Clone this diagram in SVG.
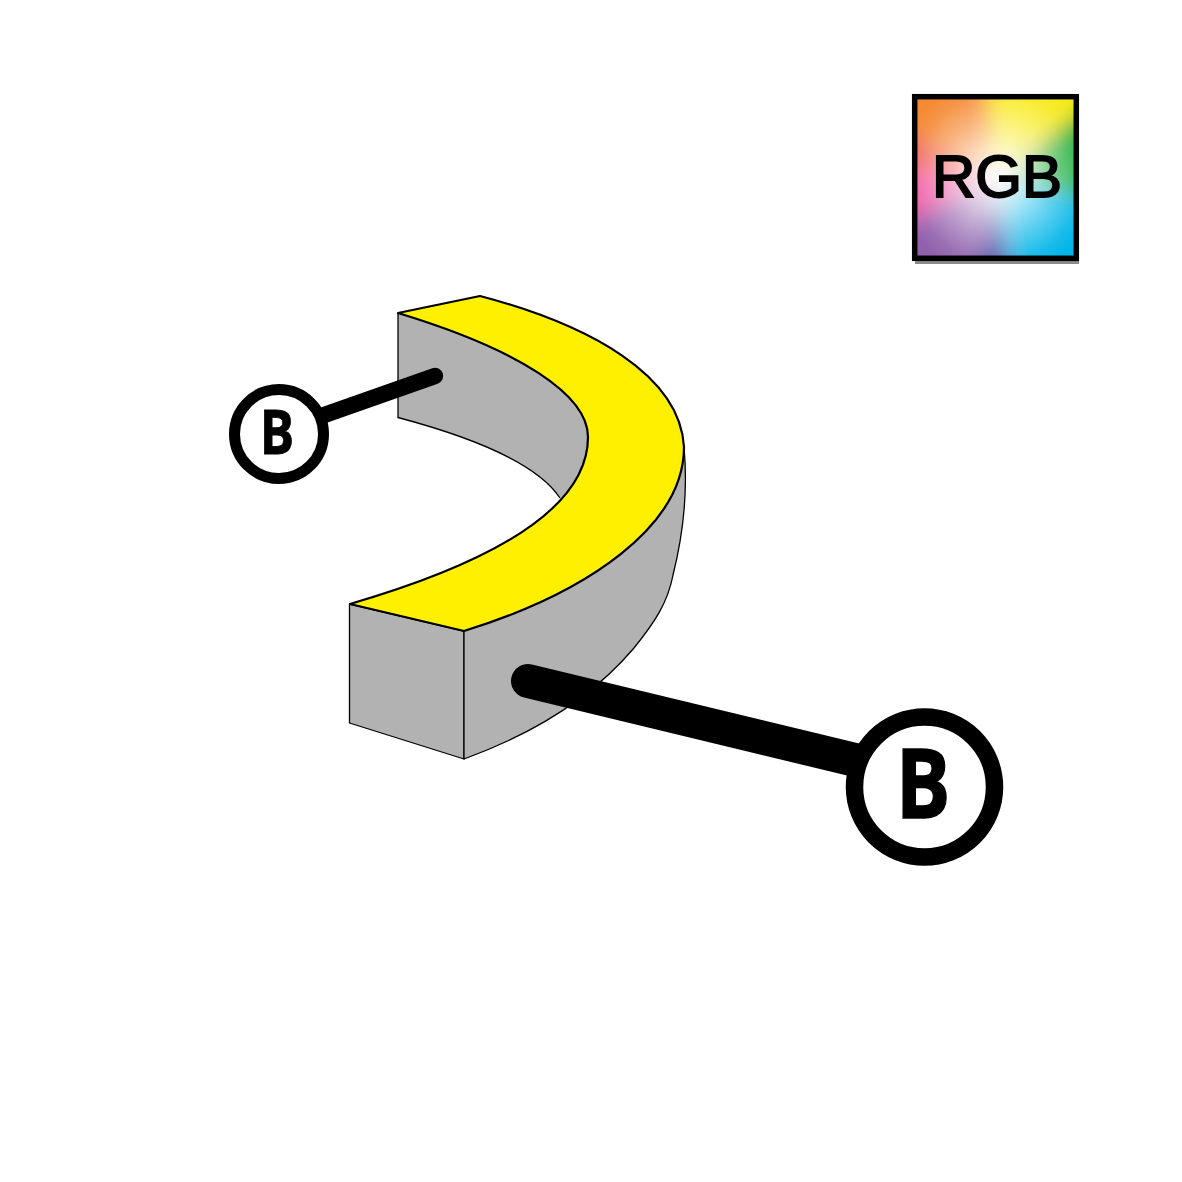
<svg xmlns="http://www.w3.org/2000/svg" width="1182" height="1182" viewBox="0 0 1182 1182">
<style>
.fill{fill:#b2b2b2;stroke:none}
.edge{fill:none;stroke:#000;stroke-width:1.3;stroke-linejoin:round}
.grey{fill:#b2b2b2;stroke:#000;stroke-width:1.3;stroke-linejoin:round}
.yel{fill:#fff000;stroke:#000;stroke-width:2.200;stroke-linejoin:round}
.ring{fill:#fff;stroke:#000}
.conn{stroke:#000;stroke-linecap:round;fill:none}
.lab{font-family:"Open Sans","Liberation Sans",Arial,sans-serif;font-weight:700;fill:#000;stroke:#000;stroke-linejoin:miter;text-anchor:middle}
</style>
<defs>
<clipPath id="sq"><rect x="917" y="99" width="157" height="157"/></clipPath>
<filter id="bl" x="-30%" y="-30%" width="160%" height="160%"><feGaussianBlur stdDeviation="10"/></filter>
<radialGradient id="wh" gradientUnits="userSpaceOnUse" cx="998" cy="178" r="100">
<stop offset="0" stop-color="#fff" stop-opacity=".98"/>
<stop offset=".3" stop-color="#fff" stop-opacity=".7"/>
<stop offset=".6" stop-color="#fff" stop-opacity=".36"/>
<stop offset=".85" stop-color="#fff" stop-opacity=".1"/>
<stop offset="1" stop-color="#fff" stop-opacity="0"/>
</radialGradient>
</defs>
<rect width="1182" height="1182" fill="#fff"/>
<g id="rgb-badge">
<rect x="915" y="261" width="164" height="3" fill="#8a8a8a"/>
<g clip-path="url(#sq)">
<rect x="917" y="99" width="157" height="157" fill="#fff"/>
<g filter="url(#bl)">
<polygon points="996,178 800,78 800,-40 975,-40" fill="#f58a35"/>
<polygon points="996,178 975,-40 1110,-40 1110,90" fill="#f8ea1c"/>
<polygon points="996,178 1110,90 1110,205" fill="#1fae3c"/>
<polygon points="996,178 1110,205 1130,320 1020,320" fill="#00b5e8"/>
<polygon points="996,178 1020,320 965,320" fill="#4a50a5"/>
<polygon points="996,178 965,320 800,320 800,275" fill="#9060ac"/>
<polygon points="996,178 800,275 800,164" fill="#f058a6"/>
<polygon points="996,178 800,164 800,78" fill="#f1665c"/>
</g>
<rect x="917" y="99" width="157" height="157" fill="url(#wh)"/>
</g>
<rect x="914.700" y="96.700" width="161.600" height="161.600" fill="none" stroke="#000" stroke-width="5.500"/>
<text x="997" y="196.500" font-size="60" text-anchor="middle" font-family="'Liberation Sans',Arial,sans-serif" fill="#000" stroke="#000" stroke-width="2">RGB</text>
</g>
<g id="channel">
<path id="inner-wall" class="fill" d="M398,313 V417.500 C460,434 535,460 560,498 L600,470 L600,400 L540,340 Z"/>
<path id="inner-wall-edge" class="edge" d="M398,313 V417.500 C460,434 535,460 560,498"/>
<path id="front-face" class="grey" d="M349.500,604 V723 L464,759 V631 Z"/>
<path id="outer-wall" class="fill" d="M464,631 V759 C530,735 590,700 634,648 C655,622 668,602 673,575 C683,535 688,490 684,447 L600,560 Z"/>
<path id="outer-wall-edge" class="edge" d="M464,631 V759 C530,735 590,700 634,648 C655,622 668,602 673,575 C683,535 688,490 684,447"/>
<path id="top-face" class="yel" d="M398,313 L480,296 C590,325 680,375 684,447 C684,525 590,592 464,631 L350,604 C460,572 588,520 588,437 C588,395 520,350 398,313 Z"/>
</g>
<g id="connectors">
<line class="conn" x1="435" y1="376" x2="310" y2="420" stroke-width="16.500"/>
<line class="conn" x1="528" y1="681" x2="880" y2="766" stroke-width="34"/>
</g>
<g id="label-small">
<circle class="ring" cx="279" cy="434" r="44.500" stroke-width="11"/>
<text class="lab" transform="translate(277,454) scale(.84,1)" font-size="61" stroke-width=".8">B</text>
</g>
<g id="label-large">
<circle class="ring" cx="924.500" cy="787" r="70" stroke-width="17.500"/>
<text class="lab" transform="translate(923,817.500) scale(.84,1)" font-size="97" stroke-width="1.400">B</text>
</g>
</svg>
